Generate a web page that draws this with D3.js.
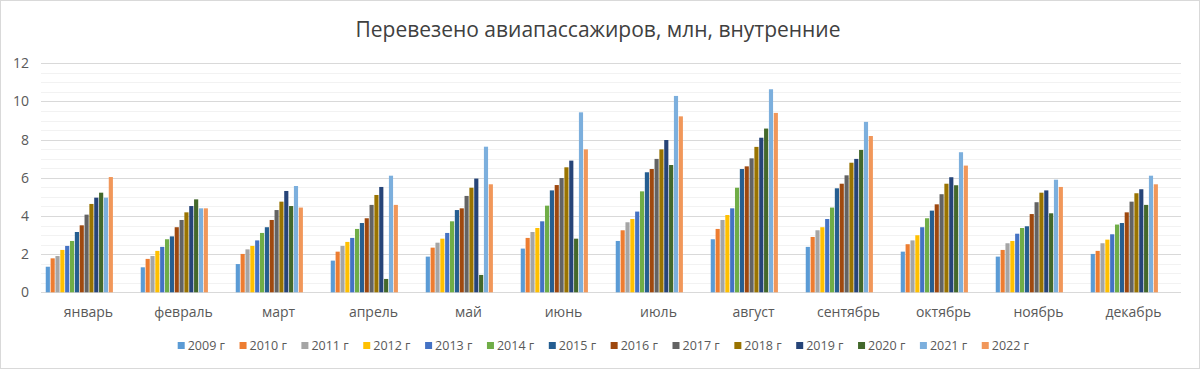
<!DOCTYPE html>
<html>
<head>
<meta charset="utf-8">
<script src="https://cdn.jsdelivr.net/npm/d3@7"></script>
<style>
  body { margin: 0; background: #fff; }
  text { font-family: "Open Sans", "Liberation Sans", sans-serif; fill: #595959; }
</style>
</head>
<body>
<div id="chart"></div>
<script>
var months = ['январь','февраль','март','апрель','май','июнь','июль','август','сентябрь','октябрь','ноябрь','декабрь'];
var years = ['2009 г','2010 г','2011 г','2012 г','2013 г','2014 г','2015 г','2016 г','2017 г','2018 г','2019 г','2020 г','2021 г','2022 г'];
var colors = ['#5B9BD5','#ED7D31','#A5A5A5','#FFC000','#4472C4','#70AD47','#255E91','#9E480E','#636363','#997300','#264478','#43682B','#7CAFDD','#F1975A'];

// one row per month, values by year 2009..2022
var jan = [1.34,1.78,1.90,2.22,2.43,2.69,3.16,3.51,4.07,4.63,4.96,5.22,4.96,6.04];
var feb = [1.31,1.75,1.90,2.17,2.38,2.78,2.93,3.41,3.79,4.19,4.52,4.87,4.40,4.40];
var mar = [1.48,2.01,2.25,2.43,2.72,3.11,3.41,3.79,4.31,4.75,5.31,4.52,5.57,4.44];
var apr = [1.66,2.13,2.43,2.64,2.85,3.32,3.63,3.88,4.58,5.10,5.52,0.70,6.11,4.58];
var may = [1.87,2.34,2.60,2.81,3.11,3.72,4.31,4.40,5.05,5.48,5.96,0.91,7.63,5.66];
var jun = [2.29,2.85,3.16,3.37,3.72,4.54,5.34,5.62,5.99,6.55,6.90,2.81,9.43,7.49];
var jul = [2.69,3.25,3.67,3.84,4.23,5.29,6.29,6.46,6.99,7.49,7.98,6.67,10.29,9.22];
var aug = [2.78,3.32,3.79,4.05,4.40,5.48,6.46,6.60,7.02,7.62,8.10,8.58,10.64,9.40];
var sep = [2.38,2.90,3.25,3.41,3.84,4.44,5.45,5.69,6.13,6.79,6.99,7.46,8.93,8.19];
var oct = [2.13,2.52,2.72,2.99,3.41,3.88,4.28,4.61,5.14,5.69,6.03,5.61,7.34,6.64];
var nov = [1.87,2.22,2.57,2.69,3.07,3.37,3.46,4.10,4.72,5.22,5.34,4.14,5.90,5.52];
var dec = [2.01,2.17,2.57,2.76,3.04,3.55,3.63,4.19,4.75,5.19,5.40,4.58,6.11,5.66];

var yTicks = [0,2,4,6,8,10,12];
var title = 'Перевезено авиапассажиров, млн, внутренние';

var width = 1200, height = 370;
var rows = [jan,feb,mar,apr,may,jun,jul,aug,sep,oct,nov,dec];

var svg = d3.select('#chart').append('svg')
  .attr('width', width)
  .attr('height', height);

// outer frame
svg.append('rect')
  .attr('x', 0.5).attr('y', 0.5)
  .attr('width', width - 1).attr('height', height - 2)
  .attr('fill', '#fff').attr('stroke', '#d9d9d9');

svg.append('text')
  .attr('x', 598).attr('y', 37)
  .attr('text-anchor', 'middle')
  .style('font-size', '21px')
  .style('fill', '#404040')
  .text(title);

var x0 = d3.scaleBand().domain(months).range([41, 1181]);
var bw = x0.bandwidth();
// Excel leaves empty slots on the right of each group
var x1 = d3.scaleBand().domain(years).range([bw * 0.05, bw * 0.05 + bw * 14 / 19.6]);
var y = d3.scaleLinear().domain([0, 12]).range([292.3, 63.3]);

// minor grid
svg.append('g').selectAll('line')
  .data(d3.range(0.5, 12, 0.5).filter(d => d % 2 !== 0))
  .enter().append('line')
  .attr('x1', 41).attr('x2', 1181)
  .attr('y1', d => Math.round(y(d)) + 0.5)
  .attr('y2', d => Math.round(y(d)) + 0.5)
  .attr('stroke', '#f2f2f2');

// major grid
svg.append('g').selectAll('line')
  .data(yTicks)
  .enter().append('line')
  .attr('x1', 41).attr('x2', 1181)
  .attr('y1', d => Math.round(y(d)) + 0.5)
  .attr('y2', d => Math.round(y(d)) + 0.5)
  .attr('stroke', '#d9d9d9');

svg.append('g').selectAll('text')
  .data(yTicks)
  .enter().append('text')
  .attr('x', 29)
  .attr('y', d => y(d) + 5)
  .attr('text-anchor', 'end')
  .style('font-size', '14px')
  .text(d => d);

// bars
var groups = svg.append('g').selectAll('g')
  .data(rows)
  .enter().append('g')
  .attr('transform', (d, i) => 'translate(' + x0(months[i]) + ',0)');

groups.selectAll('rect')
  .data(d => d)
  .enter().append('rect')
  .attr('x', (d, i) => x1(years[i]))
  .attr('width', x1.bandwidth() - 0.7)
  .attr('y', d => y(d))
  .attr('height', d => y(0) - y(d))
  .attr('fill', (d, i) => colors[i]);

// month labels
svg.append('g').selectAll('text')
  .data(months)
  .enter().append('text')
  .attr('x', d => x0(d) + bw / 2)
  .attr('y', 317)
  .attr('text-anchor', 'middle')
  .style('font-size', '14px')
  .text(d => d);

// legend
var legend = svg.append('g').selectAll('g')
  .data(years)
  .enter().append('g')
  .attr('transform', (d, i) => 'translate(' + (177.7 + i * 61.85) + ',342)');

legend.append('rect')
  .attr('width', 7).attr('height', 7)
  .attr('fill', (d, i) => colors[i]);

legend.append('text')
  .attr('x', 10).attr('y', 8)
  .style('font-size', '12.5px')
  .text(d => d);
</script>
</body>
</html>
